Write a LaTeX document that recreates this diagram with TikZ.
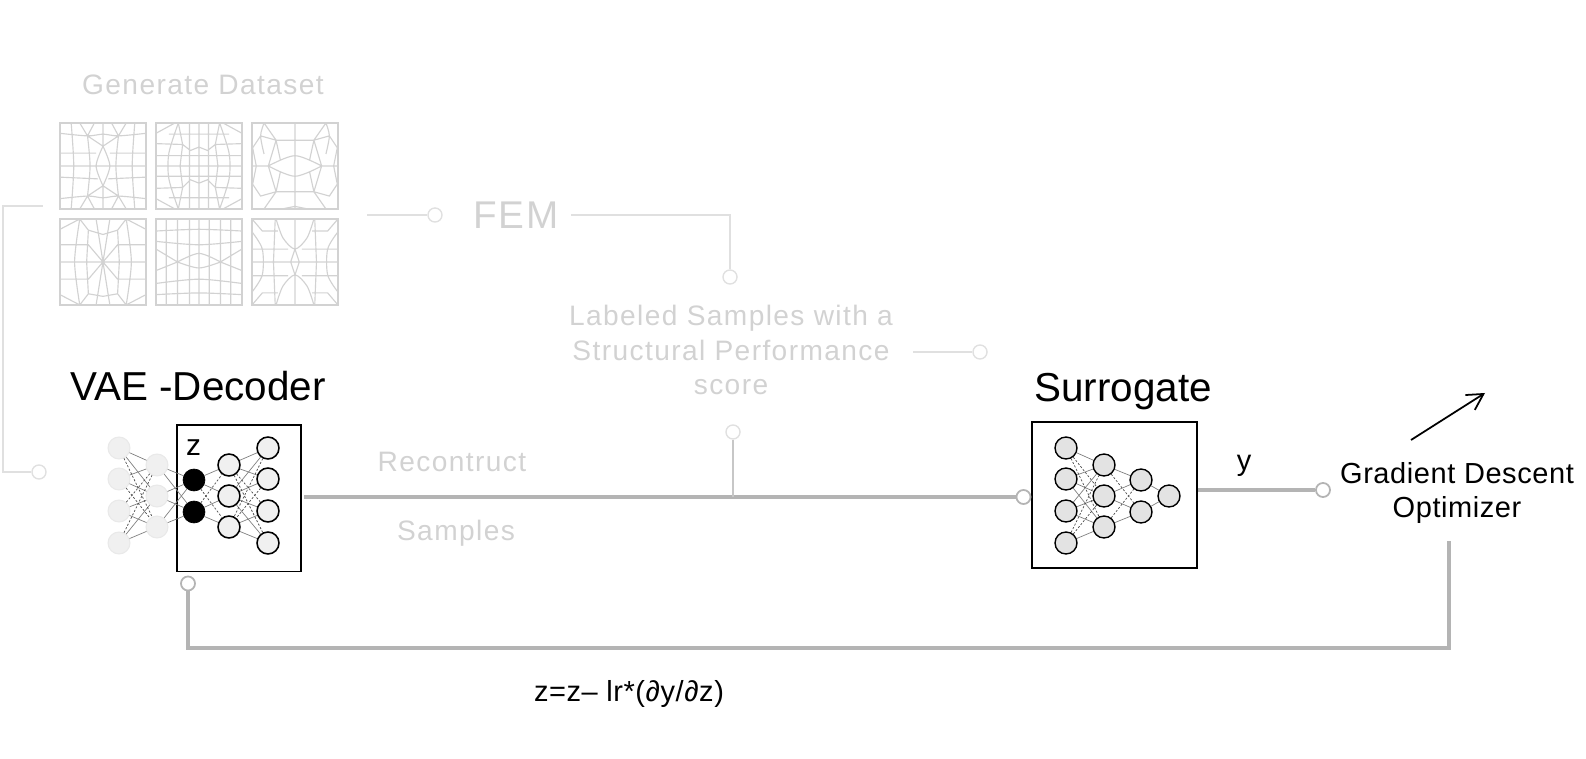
\documentclass[tikz,border=0pt]{standalone}
\usepackage{fontspec}
\usetikzlibrary{arrows.meta}
\setmainfont{Liberation Sans}
\newfontfamily\spaced[LetterSpace=5]{Liberation Sans}
\newfontfamily\wide[LetterSpace=2]{Liberation Sans}
\definecolor{Faint}{HTML}{D2D2D2}
\definecolor{Wire}{HTML}{B4B4B4}
\definecolor{Pale}{HTML}{E0E0E0}
\tikzset{
    meshline/.style={draw=Faint, line width=.65pt},
    meshbox/.style={draw=Faint, line width=1.3pt},
    title/.style={font=\fontsize{23}{27}\selectfont, text=black},
    ghosttext/.style={font=\spaced\fontsize{16}{19.4}\selectfont, text=Faint, align=center},
    plain/.style={font=\wide\fontsize{16.5}{19.4}\selectfont, text=black, align=center},
    port/.style={circle, draw=Wire, line width=1pt, fill=white, minimum size=8pt, inner sep=0pt},
    ghostport/.style={port, draw=Pale, line width=.8pt},
    wire/.style={draw=Wire, line width=1.8pt},
    fadedwire/.style={draw=Wire!75, line width=1pt},
    ghostwire/.style={draw=Pale, line width=.9pt},
    netbox/.style={draw=black, line width=1pt, rectangle, inner sep=0pt},
    ghostnn/.style={circle, draw=Pale!70, line width=.6pt, fill=black!6, minimum size=12.5pt, inner sep=0pt},
    decnn/.style={circle, draw=black, line width=.9pt, fill=black!6, minimum size=12.5pt, inner sep=0pt},
    latent/.style={circle, draw=black, fill=black, minimum size=12.5pt, inner sep=0pt},
    surnn/.style={circle, draw=black, line width=.8pt, fill=black!11, minimum size=12.5pt, inner sep=0pt},
    solidedge/.style={draw=black!50, line width=.4pt},
    dashedge/.style={draw=black!70, line width=.4pt, dash pattern=on 1.2pt off 1pt},
}
\begin{document}
\begin{tikzpicture}[x=.02cm, y=-.02cm]
    \useasboundingbox (0,0) rectangle (1586,759);

    % meshes
    \begin{scope}[shift={(60,123)}, x=.0172cm, y=-.0172cm]
        \draw[meshline] plot[smooth] coordinates {(13,0) (16,50) (13,100)} plot[smooth] coordinates {(87,0) (84,50) (87,100)}
            plot[smooth] coordinates {(32,15) (35,50) (32,85)} plot[smooth] coordinates {(68,15) (65,50) (68,85)}
            plot[smooth] coordinates {(50,27) (42,50) (50,73)} plot[smooth] coordinates {(50,27) (58,50) (50,73)}
            (23,0) -- (32,15) -- (40,0) (60,0) -- (68,15) -- (77,0) (23,100) -- (32,85) -- (40,100) (60,100) -- (68,85) -- (77,100)
            (50,0) -- (50,27) (50,73) -- (50,100) (32,15) -- (50,27) -- (68,15) (32,85) -- (50,73) -- (68,85)
            plot[smooth] coordinates {(0,12) (32,15) (50,13) (68,15) (100,12)} plot[smooth] coordinates {(0,88) (32,85) (50,87) (68,85) (100,88)}
            (0,35) -- (42,35) (58,35) -- (100,35) (0,50) -- (100,50) (0,63) -- (44,65) (56,65) -- (100,63);
        \draw[meshbox] (0,0) rectangle (100,100);
    \end{scope}
    \begin{scope}[shift={(156,123)}, x=.0172cm, y=-.0172cm]
        \draw[meshline] plot[smooth] coordinates {(26,0) (15,35) (15,65) (26,100)} plot[smooth] coordinates {(74,0) (85,35) (85,65) (74,100)}
            (0,12) -- (22,0) (100,12) -- (78,0) (0,88) -- (22,100) (100,88) -- (78,100)
            (26,0) -- (31,25) -- (28,50) -- (31,75) -- (26,100) (74,0) -- (69,25) -- (72,50) -- (69,75) -- (74,100)
            (39,0) -- (39,100) (50,0) -- (50,100) (61,0) -- (61,100)
            (0,24) -- (31,25) -- (40,32) -- (50,28) -- (60,32) -- (69,25) -- (100,24)
            (0,76) -- (31,75) -- (40,66) -- (50,70) -- (60,66) -- (69,75) -- (100,76)
            (0,50) -- (100,50) (0,38) -- (100,38) (0,62) -- (100,62) (15,13) -- (85,13) (15,87) -- (85,87);
        \draw[meshbox] (0,0) rectangle (100,100);
    \end{scope}
    \begin{scope}[shift={(252,123)}, x=.0172cm, y=-.0172cm]
        \draw[meshline] plot[smooth] coordinates {(19,50) (50,38) (81,50)} plot[smooth] coordinates {(19,50) (50,62) (81,50)}
            (50,0) -- (50,100) (19,50) -- (28,20) -- (14,0) (81,50) -- (72,20) -- (86,0) (19,50) -- (28,80) -- (14,100) (81,50) -- (72,80) -- (86,100)
            (0,25) -- (5,50) -- (0,75) (100,25) -- (95,50) -- (100,75) (0,50) -- (19,50) (81,50) -- (100,50)
            (0,30) -- (10,15) -- (28,20) -- (72,20) -- (90,15) -- (100,30) (0,70) -- (10,85) -- (28,80) -- (72,80) -- (90,85) -- (100,70)
            plot[smooth] coordinates {(14,0) (10,15) (14,36)} plot[smooth] coordinates {(86,0) (90,15) (86,36)}
            (28,20) -- (33,43) (72,20) -- (67,43) (28,80) -- (33,57) (72,80) -- (67,57) (35,100) -- (50,97) -- (65,100);
        \draw[meshbox] (0,0) rectangle (100,100);
    \end{scope}
    \begin{scope}[shift={(60,219)}, x=.0172cm, y=-.0172cm]
        \draw[meshline] plot[smooth] coordinates {(23,0) (17,50) (23,100)} plot[smooth] coordinates {(77,0) (83,50) (77,100)}
            (0,12) -- (23,0) (100,12) -- (77,0) (0,88) -- (23,100) (100,88) -- (77,100)
            (33,13) -- (31,50) -- (33,87) (67,13) -- (69,50) -- (67,87) (33,13) -- (23,0) (67,13) -- (77,0) (33,87) -- (23,100) (67,87) -- (77,100)
            (42,0) -- (50,50) -- (58,0) (42,100) -- (50,50) -- (58,100) (50,50) -- (33,30) -- (0,30) (50,50) -- (67,30) -- (100,30)
            (50,50) -- (33,70) -- (0,70) (50,50) -- (67,70) -- (100,70) (0,50) -- (100,50) (33,13) -- (50,18) -- (67,13) (33,87) -- (50,90) -- (67,87);
        \draw[meshbox] (0,0) rectangle (100,100);
    \end{scope}
    \begin{scope}[shift={(156,219)}, x=.0172cm, y=-.0172cm]
        \draw[meshline] (12,0) -- (12,100) (25,0) -- (25,100) (39,0) -- (39,100) (50,0) -- (50,100) (62,0) -- (62,100) (75,0) -- (75,100) (87,0) -- (87,100)
            plot[smooth] coordinates {(25,50) (50,40) (75,50)} plot[smooth] coordinates {(25,50) (50,57) (75,50)}
            (0,35) -- (25,50) -- (0,60) (100,35) -- (75,50) -- (100,60)
            plot[smooth] coordinates {(0,14) (50,12) (100,14)} plot[smooth] coordinates {(0,26) (50,30) (100,26)}
            plot[smooth] coordinates {(0,75) (50,70) (100,75)} plot[smooth] coordinates {(0,88) (50,86) (100,88)};
        \draw[meshbox] (0,0) rectangle (100,100);
    \end{scope}
    \begin{scope}[shift={(252,219)}, x=.0172cm, y=-.0172cm]
        \draw[meshline] (50,0) -- (50,35) (50,65) -- (50,100) (50,35) -- (45,50) -- (50,65) -- (55,50) -- cycle
            plot[smooth] coordinates {(28,0) (36,22) (50,35) (64,22) (72,0)} plot[smooth] coordinates {(28,100) (36,78) (50,65) (64,78) (72,100)}
            plot[smooth] coordinates {(0,15) (12,35) (12,65) (0,85)} plot[smooth] coordinates {(100,15) (88,35) (88,65) (100,85)}
            (27,0) -- (25,50) -- (27,100) (73,0) -- (75,50) -- (73,100) (0,0) -- (12,14) -- (30,14) (100,0) -- (88,14) -- (70,14) (0,100) -- (12,86) -- (30,86) (100,100) -- (88,86) -- (70,86)
            (0,35) -- (42,35) (58,35) -- (100,35) (0,50) -- (100,50) (0,66) -- (42,66) (58,66) -- (100,66);
        \draw[meshbox] (0,0) rectangle (100,100);
    \end{scope}

    % faded part
    \node[ghosttext] (dataset) at (203,85) {Generate Dataset};
    \node[font=\spaced\fontsize{22}{26}\selectfont, text=Faint] (fem) at (516,215) {FEM};
    \node[ghosttext] (labeled) at (731,350) {Labeled Samples with a\\Structural Performance\\score};
    \node[ghosttext] (recon) at (452,462) {Recontruct};
    \node[ghosttext] (samples) at (456,533) {Samples};
    \coordinate (datasetout) at (43,206);
    \coordinate (femout) at (367,215);
    \coordinate (femright) at (571,215);
    \coordinate (labeledout) at (913,352);
    \node[ghostport] (decin) at (39,472) {};
    \node[ghostport] (femin) at (435,215) {};
    \node[ghostport] (labelin) at (730,277) {};
    \node[ghostport] (sampleout) at (980,352) {};
    \node[ghostport] (reconport) at (733,432) {};
    \draw[ghostwire] (datasetout) -- (3,206) -- (3,472) -- (decin);
    \draw[ghostwire] (femout) -- (femin);
    \draw[ghostwire] (femright) -| (labelin);
    \draw[ghostwire] (labeledout) -- (sampleout);

    % decoder
    \node[title] (vaetitle) at (198,386) {VAE -Decoder};
    \node[netbox, minimum width=70.3pt, minimum height=83.4pt] (decbox) at (239,498.2) {};
    \node[plain, font=\fontsize{17}{19}\selectfont] (zlabel) at (193.7,448) {z};
    \foreach \n/\y in {1/448,2/479,3/511,4/543} {
        \node[ghostnn] (da\n) at (119,\y) {};
        \node[decnn] (de\n) at (268,\y) {};
    }
    \foreach \n/\y in {1/465,2/496,3/527} {
        \node[ghostnn] (db\n) at (157,\y) {};
        \node[decnn] (dd\n) at (229,\y) {};
    }
    \node[latent] (dc1) at (194,480) {};
    \node[latent] (dc2) at (194,512) {};
    \foreach \a/\b in {1/1,2/1,2/2,3/2,3/3,4/3,1/2,4/2} {
        \draw[solidedge] (da\a) -- (db\b);
        \draw[solidedge] (de\a) -- (dd\b);
    }
    \foreach \a/\b in {1/3,2/3,3/1,4/1} {
        \draw[dashedge] (da\a) -- (db\b);
        \draw[dashedge] (de\a) -- (dd\b);
    }
    \foreach \a/\b in {1/1,2/1,2/2,3/2} {
        \draw[solidedge] (db\a) -- (dc\b);
        \draw[solidedge] (dc\b) -- (dd\a);
    }
    \foreach \a/\b in {1/2,3/1} {
        \draw[solidedge] (db\a) -- (dc\b);
        \draw[dashedge] (dc\b) -- (dd\a);
    }

    % surrogate
    \node[title] (surtitle) at (1123,392) {Surrogate};
    \node[netbox, minimum width=94pt, minimum height=83.2pt] (surbox) at (1114.5,495) {};
    \foreach \n/\y in {1/448,2/479,3/511,4/543}
        \node[surnn] (sa\n) at (1066,\y) {};
    \foreach \n/\y in {1/465,2/496,3/527}
        \node[surnn] (sb\n) at (1104,\y) {};
    \node[surnn] (sc1) at (1141,480) {};
    \node[surnn] (sc2) at (1141,512) {};
    \node[surnn] (sd) at (1169,496) {};
    \foreach \a/\b in {1/1,2/1,2/2,3/2,3/3,4/3,2/3,3/1}
        \draw[solidedge] (sa\a) -- (sb\b);
    \foreach \a/\b in {1/2,1/3,4/1,4/2}
        \draw[dashedge] (sa\a) -- (sb\b);
    \foreach \a/\b in {1/1,2/1,2/2,3/2}
        \draw[solidedge] (sb\a) -- (sc\b);
    \draw[dashedge] (sb1) -- (sc2);
    \draw[dashedge] (sb3) -- (sc1);
    \draw[solidedge] (sc1) -- (sd);
    \draw[solidedge] (sc2) -- (sd);

    % main wires
    \node[port] (surin) at (1023.5,497) {};
    \node[port] (yport) at (1323,490) {};
    \node[port] (zport) at (188,583.5) {};
    \node[plain] (optimizer) at (1457,493) {Gradient Descent\\Optimizer};
    \node[plain] (ylabel) at (1244,466) {y};
    \node[plain] (update) at (629,694) {z=z– lr*(∂y/∂z)};
    \coordinate (decout) at (304,497);
    \coordinate (optout) at (1449,541);
    \coordinate (rise) at (1411,440);
    \coordinate (risetip) at (1485,393);
    \draw[wire] (decout) -- (surin);
    \draw[fadedwire] (reconport) -- (733,497);
    \draw[wire] (surbox.east |- yport) -- (yport);
    \draw[wire] (optout) -- (1449,648) -| (zport);
    \draw[black, line width=1pt, -{Straight Barb[length=9pt,width=10pt]}] (rise) -- (risetip);
\end{tikzpicture}
\end{document}
